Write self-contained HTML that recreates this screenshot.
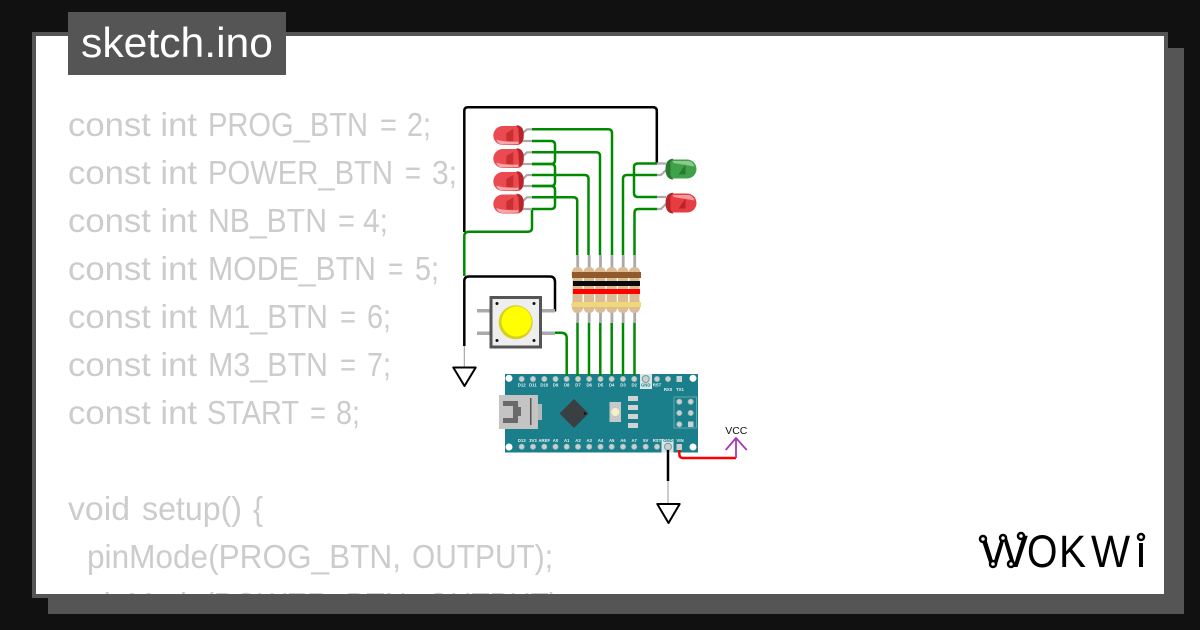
<!DOCTYPE html>
<html><head><meta charset="utf-8"><style>
html,body{margin:0;padding:0;background:#111;width:1200px;height:630px;overflow:hidden}
svg{display:block}
text{font-family:"Liberation Sans",sans-serif}
.c text{font-size:33px;fill:#ccc}
.w{fill:none;stroke-linejoin:round;stroke-linecap:butt}
.p{font-size:4.300px;fill:#e8f2f2;font-weight:bold;text-anchor:middle}
</style></head><body>
<svg width="1200" height="630" viewBox="0 0 1200 630" xmlns="http://www.w3.org/2000/svg">
<defs>
<clipPath id="pc"><rect x="36" y="36" width="1128" height="558"/></clipPath>
<g id="ledL">
<path d="M9.500 0 H24 Q30 0 30 9.500 Q30 19 24 19 H9.500 A9.500 9.500 0 0 1 9.500 0Z" fill="#ea4a50"/>
<path d="M23 -0.800 Q30.500 -0.800 30.500 9 Q30.500 17 26 18 L25 3 Z" fill="#b8242a"/>
<path d="M3 13.500 Q12 16.500 25 15.500 L25 18 L9 18.500 Q4 18 3 13.500Z" fill="#f6a8aa"/>
<path d="M13 7 L20 3 L20 15 L13 15Z" fill="#c92f30"/>
</g>
<g id="ledR">
<path d="M7 0 H21.500 A9.500 9.500 0 0 1 21.500 19 H7 Q1 19 1 9.500 Q1 0 7 0Z" fill="var(--m)"/>
<path d="M8 -0.800 Q0 -0.800 0 9.500 Q0 20 8 20 L5 16 L5 3Z" fill="var(--d)"/>
<path d="M7 1.500 L24 1.500 Q28 3 29 7 L8 3.500Z" fill="var(--l)"/>
<path d="M13 15 L20 5 L20 15Z" fill="var(--d)"/>
</g>
<g id="res">
<rect x="-1.200" y="-13" width="2.800" height="13" fill="#aaa"/>
<rect x="-1.200" y="44" width="2.800" height="11" fill="#aaa"/>
<path d="M-6 7 Q-6 -1 0 -1 Q6 -1 6 7 L5 10 L5 33 L6 36 Q6 45 0 45 Q-6 45 -6 36 L-5 33 L-5 10Z" fill="#dcbc94"/>
</g>
<circle id="pin" r="2.600" fill="#c8d0d0" stroke="#9fb5b5" stroke-width=".8"/>
</defs>

<rect width="1200" height="630" fill="#111"/>
<rect x="48" y="48" width="1136" height="566" fill="#555"/>
<rect x="34" y="34" width="1132" height="562" fill="#fff" stroke="#555" stroke-width="4"/>

<g clip-path="url(#pc)" class="c">
<text x="68" y="136" textLength="129" lengthAdjust="spacingAndGlyphs">const int</text><text x="208" y="136" textLength="160" lengthAdjust="spacingAndGlyphs">PROG_BTN</text><text x="380" y="136" textLength="17" lengthAdjust="spacingAndGlyphs">=</text><text x="407" y="136" textLength="24" lengthAdjust="spacingAndGlyphs">2;</text>
<text x="68" y="184" textLength="129" lengthAdjust="spacingAndGlyphs">const int</text><text x="208" y="184" textLength="185" lengthAdjust="spacingAndGlyphs">POWER_BTN</text><text x="405" y="184" textLength="16" lengthAdjust="spacingAndGlyphs">=</text><text x="432" y="184" textLength="25" lengthAdjust="spacingAndGlyphs">3;</text>
<text x="68" y="232" textLength="129" lengthAdjust="spacingAndGlyphs">const int</text><text x="208" y="232" textLength="119" lengthAdjust="spacingAndGlyphs">NB_BTN</text><text x="338" y="232" textLength="17" lengthAdjust="spacingAndGlyphs">=</text><text x="363" y="232" textLength="25" lengthAdjust="spacingAndGlyphs">4;</text>
<text x="68" y="280" textLength="129" lengthAdjust="spacingAndGlyphs">const int</text><text x="208" y="280" textLength="168" lengthAdjust="spacingAndGlyphs">MODE_BTN</text><text x="388" y="280" textLength="15" lengthAdjust="spacingAndGlyphs">=</text><text x="415" y="280" textLength="24" lengthAdjust="spacingAndGlyphs">5;</text>
<text x="68" y="328" textLength="129" lengthAdjust="spacingAndGlyphs">const int</text><text x="208" y="328" textLength="120" lengthAdjust="spacingAndGlyphs">M1_BTN</text><text x="340" y="328" textLength="16" lengthAdjust="spacingAndGlyphs">=</text><text x="367" y="328" textLength="24" lengthAdjust="spacingAndGlyphs">6;</text>
<text x="68" y="376" textLength="129" lengthAdjust="spacingAndGlyphs">const int</text><text x="208" y="376" textLength="120" lengthAdjust="spacingAndGlyphs">M3_BTN</text><text x="340" y="376" textLength="16" lengthAdjust="spacingAndGlyphs">=</text><text x="367" y="376" textLength="24" lengthAdjust="spacingAndGlyphs">7;</text>
<text x="68" y="424" textLength="129" lengthAdjust="spacingAndGlyphs">const int</text><text x="207" y="424" textLength="92" lengthAdjust="spacingAndGlyphs">START</text><text x="310" y="424" textLength="16" lengthAdjust="spacingAndGlyphs">=</text><text x="336" y="424" textLength="24" lengthAdjust="spacingAndGlyphs">8;</text>
<text x="68" y="520" textLength="62" lengthAdjust="spacingAndGlyphs">void</text><text x="142" y="520" textLength="100" lengthAdjust="spacingAndGlyphs">setup()</text><text x="253" y="520" textLength="10" lengthAdjust="spacingAndGlyphs">{</text>
<text x="87" y="568" textLength="314" lengthAdjust="spacingAndGlyphs">pinMode(PROG_BTN,</text><text x="412" y="568" textLength="141" lengthAdjust="spacingAndGlyphs">OUTPUT);</text>
<text x="87" y="616" textLength="328" lengthAdjust="spacingAndGlyphs">pinMode(POWER_BTN,</text><text x="427" y="616" textLength="140" lengthAdjust="spacingAndGlyphs">OUTPUT);</text>
</g>

<rect x="68" y="12" width="218" height="63" fill="#555"/>
<text x="81" y="57" font-size="42" fill="#fff" textLength="192" lengthAdjust="spacingAndGlyphs">sketch.ino</text>

<!-- Arduino -->
<rect x="505" y="374" width="193" height="78.500" fill="#1a7f8a"/>
<rect x="499" y="395" width="39" height="34" fill="#c4c4c4"/>
<path d="M503 401 H518 V407 H521 V416 H518 V423 H503 V418 H513 V406 H503Z" fill="#6a6a6a"/>
<rect x="530" y="398" width="1.500" height="27" fill="#555"/>
<rect x="538" y="404" width="4" height="16" fill="#b0b8b8"/>
<path d="M574 399 L588.500 413.500 L574 428 L559.500 413.500Z" fill="#3a3f42"/>
<circle cx="585" cy="413.500" r="1.200" fill="#111"/>
<rect x="609.500" y="402" width="11.500" height="20" fill="#c8c8c8"/>
<circle cx="615.200" cy="412" r="4" fill="#f4f0c8"/>
<g fill="#d0d4d4"><rect x="628" y="396" width="10" height="5"/><rect x="628" y="405" width="10" height="5"/><rect x="628" y="414" width="10" height="5"/><rect x="628" y="423" width="10" height="5"/></g>
<rect x="674" y="397" width="22.500" height="31" fill="none" stroke="#5fa8ae" stroke-width="1"/>
<use href="#pin" x="679.300" y="401.700"/><use href="#pin" x="690.700" y="401.700"/><use href="#pin" x="679.300" y="413"/><use href="#pin" x="690.700" y="413"/><use href="#pin" x="679.300" y="424.300"/>
<rect x="688" y="421.500" width="5.500" height="5.500" fill="#c8d0d0"/>
<g fill="#fff"><circle cx="509" cy="378.300" r="3.500"/><circle cx="693" cy="378.300" r="3.500"/><circle cx="509" cy="447" r="3.500"/><circle cx="693" cy="447" r="3.500"/></g>
<rect x="640" y="374" width="12" height="15" fill="#d8e6e8"/>
<rect x="661.500" y="439" width="12" height="13.500" fill="#d8e6e8"/>
<g>
<use href="#pin" x="521.700" y="379"/><use href="#pin" x="533" y="379"/><use href="#pin" x="544.300" y="379"/><use href="#pin" x="555.500" y="379"/><use href="#pin" x="566.700" y="379"/><use href="#pin" x="578" y="379"/><use href="#pin" x="589.200" y="379"/><use href="#pin" x="600.500" y="379"/><use href="#pin" x="611.700" y="379"/><use href="#pin" x="623" y="379"/><use href="#pin" x="634.200" y="379"/><use href="#pin" x="645.700" y="379"/><use href="#pin" x="657" y="379"/><use href="#pin" x="668" y="379"/>
<rect x="676.500" y="376" width="5.500" height="6" fill="#c8d0d0"/>
<use href="#pin" x="521.700" y="446.700"/><use href="#pin" x="533" y="446.700"/><use href="#pin" x="544.300" y="446.700"/><use href="#pin" x="555.500" y="446.700"/><use href="#pin" x="566.700" y="446.700"/><use href="#pin" x="578" y="446.700"/><use href="#pin" x="589.200" y="446.700"/><use href="#pin" x="600.500" y="446.700"/><use href="#pin" x="611.700" y="446.700"/><use href="#pin" x="623" y="446.700"/><use href="#pin" x="634.200" y="446.700"/><use href="#pin" x="645.700" y="446.700"/><use href="#pin" x="657" y="446.700"/><use href="#pin" x="668" y="446.700"/>
<rect x="676.500" y="444" width="5.500" height="6" fill="#c8d0d0"/>
</g>
<g>
<text class="p" x="521.700" y="386.500">D12</text><text class="p" x="533" y="386.500">D11</text><text class="p" x="544.300" y="386.500">D10</text><text class="p" x="555.500" y="386.500">D9</text><text class="p" x="566.700" y="386.500">D8</text><text class="p" x="578" y="386.500">D7</text><text class="p" x="589.200" y="386.500">D6</text><text class="p" x="600.500" y="386.500">D5</text><text class="p" x="611.700" y="386.500">D4</text><text class="p" x="623" y="386.500">D3</text><text class="p" x="634.200" y="386.500">D2</text><text class="p" x="645.700" y="386.500" style="fill:#1a7f8a">GND</text><text class="p" x="657" y="386.500">RST</text>
<text class="p" x="668" y="391">RX0</text><text class="p" x="680" y="391">TX1</text>
<text class="p" x="521.700" y="442">D13</text><text class="p" x="533" y="442">3V3</text><text class="p" x="544.300" y="442">AREF</text><text class="p" x="555.500" y="442">A0</text><text class="p" x="566.700" y="442">A1</text><text class="p" x="578" y="442">A2</text><text class="p" x="589.200" y="442">A3</text><text class="p" x="600.500" y="442">A4</text><text class="p" x="611.700" y="442">A5</text><text class="p" x="623" y="442">A6</text><text class="p" x="634.200" y="442">A7</text><text class="p" x="645.700" y="442">5V</text><text class="p" x="657" y="442">RST</text><text class="p" x="668" y="442" style="fill:#1a7f8a">GND</text><text class="p" x="680" y="442">VIN</text>
</g>
<circle cx="645.700" cy="379" r="3.500" fill="#c8d0d0" stroke="#7a9a9e"/>
<circle cx="668" cy="446.700" r="3.500" fill="#c8d0d0" stroke="#7a9a9e"/>

<!-- Wires black -->
<path class="w" stroke="#000" stroke-width="2.500" d="M464.300 232 V111 Q464.300 107.300 468 107.300 H653 Q656.800 107.300 656.800 111 V164"/>
<path class="w" stroke="#000" stroke-width="2.500" d="M464.300 346 V281 Q464.300 276.500 469 276.500 H550 Q555 276.500 555 282 V311.500"/>
<path class="w" stroke="#000" stroke-width="2.500" d="M668 450 V481"/>
<path class="w" stroke="#999" stroke-width="1" d="M464.300 346 V367 M668 481 V504"/>
<path class="w" stroke="#000" stroke-width="2" d="M453.300 367.500 H475.700 L464.500 386Z"/>
<path class="w" stroke="#000" stroke-width="2" d="M657.300 504 H679.700 L668.500 523Z"/>

<!-- Green wires -->
<g class="w" stroke="#008a00" stroke-width="2.500">
<path d="M464.300 276 V236 Q464.300 231.700 469 231.700 H528 Q532 231.700 532 228 V209"/>
<path d="M532 129.300 H608 Q612 129.300 612 133 V255"/>
<path d="M532 152.300 H596 Q600 152.300 600 156 V255"/>
<path d="M532 175 H584.500 Q588.500 175 588.500 179 V255"/>
<path d="M532 197.300 H573 Q577.200 197.300 577.200 201 V255"/>
<path d="M532 141 H551 Q555 141 555 145 V160 Q555 164 551 164 H532"/>
<path d="M532 164 H551 Q555 164 555 168 V182 Q555 186 551 186 H532"/>
<path d="M532 186 H551 Q555 186 555 190 V205 Q555 209 551 209 H532"/>
<path d="M657 163.500 H638 Q634 163.500 634 167 V193 Q634 197 638 197 H657"/>
<path d="M657 175 H627 Q623 175 623 179 V255"/>
<path d="M657 209 H638 Q634.500 209 634.500 213 V255"/>
<path d="M555 332.700 H561 Q566.700 332.700 566.700 338 V376"/>
<path d="M577.500 322 V376 M589 322 V376 M600.300 322 V376 M611.700 322 V376 M623 322 V376 M634.500 322 V376"/>
</g>
<path class="w" stroke="#f00" stroke-width="2.500" d="M679.300 450 V454 Q679.300 458 683 458 H736"/>
<path class="w" stroke="#a838b8" stroke-width="1.800" d="M736 458 V438 M725.700 450 L736 438 L746.700 450"/>
<text x="736.300" y="434" font-size="10.500" fill="#111" text-anchor="middle">VCC</text>

<!-- Resistors -->
<use href="#res" x="577.500" y="268"/><use href="#res" x="589" y="268"/><use href="#res" x="600.300" y="268"/><use href="#res" x="611.700" y="268"/><use href="#res" x="623" y="268"/><use href="#res" x="634.500" y="268"/>
<rect x="572" y="272" width="69" height="6" fill="#8f5a2c"/>
<rect x="573" y="281" width="67" height="5" fill="#0a0a0a"/>
<rect x="573" y="289" width="67" height="5" fill="#f00"/>
<rect x="572" y="302" width="69" height="5" fill="#f0d878"/>

<!-- LED leads -->
<g class="w" stroke="#aaa" stroke-width="2.200">
<path d="M522 134 L527 129.300 H532 M522 141 H532"/>
<path d="M522 157 L527 152.300 H532 M522 164 H532"/>
<path d="M522 180 L527 175 H532 M522 186 H532"/>
<path d="M522 202 L527 197.300 H532 M522 209 H532"/>
<path d="M666 163.500 H657 M666 170 L661 175 H657"/>
<path d="M666 197 H657 M666 204 L661 209 H657"/>
</g>
<use href="#ledL" x="493.300" y="126"/><use href="#ledL" x="493.300" y="149"/><use href="#ledL" x="493.300" y="172"/><use href="#ledL" x="493.300" y="194.500"/>
<use href="#ledR" x="665.500" y="159.500" style="--m:#41a04a;--d:#2a7a30;--l:#8cc98c"/>
<use href="#ledR" x="665.500" y="193.500" style="--m:#e63c42;--d:#b8242a;--l:#f09a9c"/>

<!-- Button -->
<rect x="477" y="309" width="13" height="3.500" fill="#aaa"/><rect x="477" y="331.500" width="13" height="3.500" fill="#aaa"/>
<rect x="541" y="309" width="14" height="3.500" fill="#aaa"/><rect x="541" y="331.500" width="14" height="3.500" fill="#aaa"/>
<rect x="491" y="297.500" width="49.500" height="49.500" fill="#eee" stroke="#555" stroke-width="3"/>
<g fill="#111"><circle cx="497" cy="303.500" r="1.500"/><circle cx="534" cy="303.500" r="1.500"/><circle cx="497" cy="340.500" r="1.500"/><circle cx="534" cy="340.500" r="1.500"/></g>
<circle cx="515.700" cy="322.300" r="17" fill="#d8d020"/>
<circle cx="516.500" cy="321.500" r="15" fill="#ffff00"/>

<!-- Logo -->
<g fill="#000">
<text transform="translate(980 567) scale(1.130 1)" font-size="45">W</text>
<text transform="translate(1027 567) scale(.87 1)" font-size="45">O</text>
<text transform="translate(1059 567) scale(.9 1)" font-size="45">K</text>
<text transform="translate(1091 567) scale(.92 1)" font-size="45">W</text>
<text x="1136" y="567" font-size="45">i</text>
</g>
<g fill="#fff" stroke="#000" stroke-width="2.500">
<circle cx="983" cy="539" r="3"/><circle cx="1003" cy="538" r="3"/><circle cx="1021" cy="536" r="3"/><circle cx="993" cy="564" r="3"/><circle cx="1011" cy="564" r="3"/><circle cx="1141" cy="537" r="3"/>
</g>
</svg>
</body></html>
